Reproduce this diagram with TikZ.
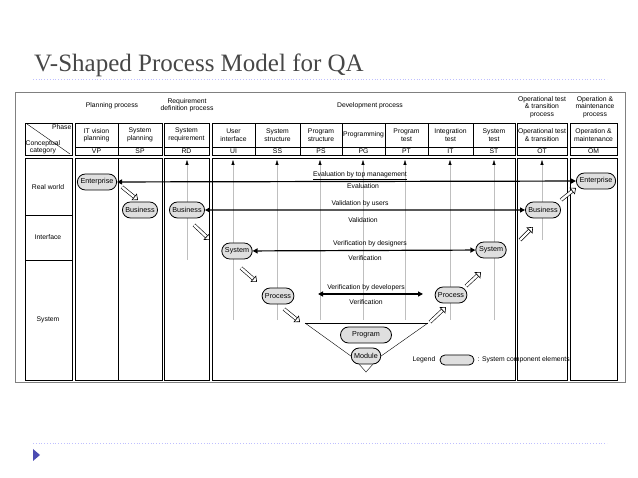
\documentclass[tikz,border=0pt]{standalone}
\usepackage{fontspec}
\setmainfont{Liberation Sans}
\newfontfamily\titlefont{Liberation Serif}
\usetikzlibrary{arrows.meta,shapes.misc}
\begin{document}
\begin{tikzpicture}[x=1pt,y=-1pt,
  txt/.style={font=\fontsize{6.8}{7.4}\selectfont,inner sep=0.5pt,align=center},
  comp/.style={draw,thick,fill=gray!25,rounded rectangle,font=\fontsize{7.2}{8}\selectfont,inner sep=2.5pt,minimum height=16pt},
  box/.style={draw,thick},
  guide/.style={gray!50,thin,-{Triangle[length=5pt,width=3pt,black]}},
  big/.style={very thick,{Triangle[length=5pt,width=5pt]}-{Triangle[length=5pt,width=5pt]}},
  fat/.style={double,double distance=2.4pt,semithick,-{Triangle[open,length=5pt,width=8.5pt]}}]
\useasboundingbox (0,0) rectangle (638,478);
% title
\node[anchor=base west,font=\titlefont\fontsize{25}{27}\selectfont,text=black!72,inner sep=0] (title) at (34,72) {V-Shaped Process Model for QA};
\draw[blue!25,dotted,thick] (33,79) -- (607,79);
\draw[blue!25,dotted,thick] (33,443) -- (607,443);
\fill[blue!40!gray] (33,449) -- (40,455) -- (33,461) -- cycle;
% frame
\draw[gray,thick] (15,92) rectangle (625,382);
% process labels
\node[txt] (pp) at (112,106) {Planning process};
\node[txt] (rdp) at (187,105) {Requirement\\definition process};
\node[txt] (dp) at (370,106) {Development process};
\node[txt] (otp) at (542,107) {Operational test\\\& transition\\process};
\node[txt] (omp) at (595,107) {Operation \&\\maintenance\\process};
% header
\draw[box] (25,123) rectangle (72,155);
\draw (27,124) -- (70,154);
\node[txt,anchor=north east] (phase) at (72,124) {Phase};
\node[txt,anchor=south west] (cc) at (25,155) {Conceptual\\category};
\foreach \a/\b/\n/\c [count=\i] in {75/118/{IT vision\\planning}/VP,118/162/{System\\planning}/SP,164/209/{System\\requirement}/RD,212/255/{User\\interface}/UI,255/300/{System\\structure}/SS,300/342/{Program\\structure}/PS,342/385/{Programming}/PG,385/428/{Program\\test}/PT,428/473/{Integration\\test}/IT,473/515/{System\\test}/ST,517/567/{Operational test\\\& transition}/OT,570/617/{Operation \&\\maintenance}/OM}{
  \draw (\a,123) rectangle (\b,155); \draw (\a,147) -- (\b,147);
  \node[txt] (h\i) at ({(\a+\b)/2},135) {\n};
  \node[txt] (c\i) at ({(\a+\b)/2},151) {\c};
}
\foreach \a/\b in {75/162,164/209,212/515,517/567,570/617}{\draw[box] (\a,123) rectangle (\b,155);}
% body
\draw[box] (25,158) rectangle (72,380);
\draw[thick] (25,215) -- (72,215); \draw[thick] (25,260) -- (72,260);
\node[txt] (rw) at (48,187) {Real world};
\node[txt] (ifc) at (48,237) {Interface};
\node[txt] (sys) at (48,320) {System};
\foreach \a/\b in {75/162,164/209,212/515,517/567,570/617}{\draw[box] (\a,158) rectangle (\b,380);}
\draw[thick] (118,158) -- (118,380);
% guide lines
\foreach \x/\yb in {187/260,233/320,277/320,320/320,363/320,405/320,450/320,494/320,542/240}{
  \coordinate (gb\x) at (\x,\yb); \coordinate (gt\x) at (\x,160);
  \draw[guide] (gb\x) -- (gt\x);}
% components
\node[comp] (ent1) at (97,182) {Enterprise};
\node[comp] (bus1) at (140,210) {Business};
\node[comp] (bus2) at (187,210) {Business};
\node[comp] (sys1) at (237,251) {System};
\node[comp] (proc1) at (278,296) {Process};
\node[comp,minimum width=56pt] (prog) at (366,335) {Program};
\node[comp] (mod) at (366,356) {Module};
\node[comp] (proc2) at (451,295) {Process};
\node[comp] (sys2) at (491,250) {System};
\node[comp] (bus3) at (543,210) {Business};
\node[comp] (ent2) at (596,181) {Enterprise};
% trapezoid
\coordinate (tl) at (305,323); \coordinate (tr) at (428,323);
\coordinate (apex) at (366,372);
\draw (tl) -- (tr);
\draw (tl) -- (mod.west); \draw (tr) -- (mod.east);
\draw (mod.south west) -- (apex) -- (mod.south east);
% big arrows
\draw[big] (ent1) -- (ent2);
\node[txt] (ev1) at (360,176) {\underline{Evaluation by top management}};
\node[txt] (ev2) at (363,186) {Evaluation};
\draw[big] (bus2) -- (bus3);
\node[txt] (va1) at (360,204) {Validation by users};
\node[txt] (va2) at (363,220) {Validation};
\draw[big] (sys1) -- (sys2);
\node[txt] (ve1) at (370,244) {Verification by designers};
\node[txt] (ve2) at (365,258) {Verification};
\coordinate (d1) at (318,294); \coordinate (d2) at (423,294);
\draw[big] (d1) -- (d2);
\node[txt] (vd1) at (366,288) {Verification by developers};
\node[txt] (vd2) at (366,302) {Verification};
% fat arrows
\foreach \sx/\sy/\ex/\ey [count=\n] in {122/187/138/200,194/225/210/240,241/268/257/282,284/309/300/322,
  430/322/446/307,466/286/481/272,520/240/533/227,561/200/576/188}{
  \coordinate (fs\n) at (\sx,\sy); \coordinate (fe\n) at (\ex,\ey);
  \draw[fat] (fs\n) -- (fe\n);}
% legend
\node[txt,anchor=east] (leg) at (436,360) {Legend};
\node[draw,thick,fill=gray!25,rounded rectangle,minimum width=34pt,minimum height=10pt,inner sep=0] (legbox) at (457,360) {};
\node[txt,anchor=west] (legt) at (477,360) {: System component elements};
\end{tikzpicture}
\end{document}
